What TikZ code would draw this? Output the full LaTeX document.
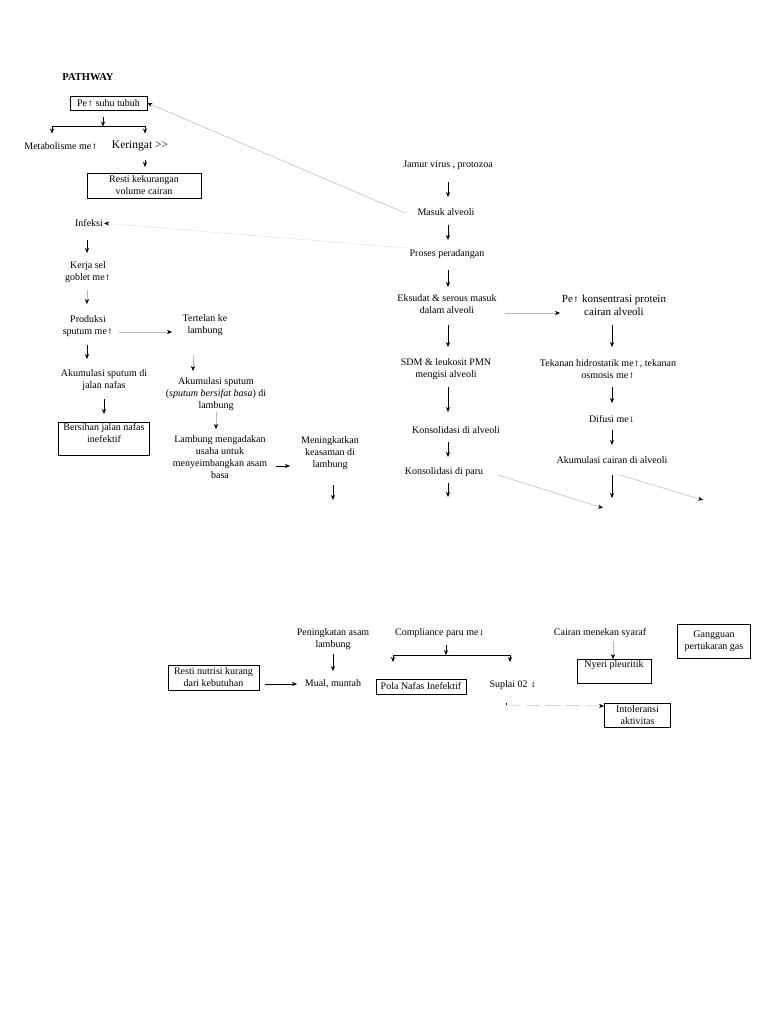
\documentclass[tikz,border=0pt]{standalone}
\usepackage{fontspec}
\setmainfont{Liberation Serif}
\newfontfamily\arrfont{DejaVu Serif}
\newcommand{\upa}{{\arrfont\fontsize{7.5}{7}\selectfont ↑}}
\newcommand{\dna}{{\arrfont\fontsize{7.5}{7}\selectfont ↓}}
\usetikzlibrary{arrows.meta}
\begin{document}
\begin{tikzpicture}[x=1pt,y=-1pt,
  t/.style={align=center,font=\fontsize{10}{12}\selectfont,inner sep=1pt,yshift=-1.2pt},
  bx/.style={draw,line width=0.8pt,align=center,font=\fontsize{10}{12}\selectfont,inner sep=1pt},
  arr/.style={-{Stealth[length=5pt,width=4.2pt]},line width=0.75pt},
  garr/.style={-{Stealth[length=5pt,width=4.2pt,color=black]},line width=0.5pt,draw=gray!55},
  ln/.style={line width=0.75pt}]
\useasboundingbox (0,0) rectangle (768,1024);
\fill[white] (0,0) rectangle (768,1024);

% ---------- left column ----------
\node[font=\bfseries\fontsize{10.5}{12}\selectfont,yshift=-1pt] (title) at (88,76) {PATHWAY};
\node[bx,minimum width=77,minimum height=14] (suhu) at (108.5,103) {Pe\upa\ suhu tubuh};
\coordinate (br1) at (103,126.5);
\draw[arr] (103,117) -- (br1);
\node[t] (meta) at (61,145) {Metabolisme me\upa};
\node[t,font=\fontsize{11.5}{12}\selectfont] (ker) at (140,145) {Keringat >{}>};
\draw[ln] (52,126.5) -- (br1) -- (145,126.5);
\draw[arr] (52,126.5) -- (52,133.5);
\draw[arr] (145,126.5) -- (145,133.5);
\node[bx,minimum width=114,minimum height=25] (resti) at (144,185.5) {Resti kekurangan\\volume cairan};
\draw[arr] (145,160) -- (145,167);
\node[t] (inf) at (89,222) {Infeksi};
\node[t] (kerja) at (88,270.5) {Kerja sel\\goblet me\upa};
\draw[arr] (87,240) -- (87,253);
\node[t] (prod) at (88,325) {Produksi\\sputum me\upa};
\draw[garr] (87,290) -- (87,304);
\node[t] (tert) at (205,324) {Tertelan ke\\lambung};
\draw[garr] (119,332) -- (172,332);
\node[t] (akum1) at (104,379) {Akumulasi sputum di\\jalan nafas};
\draw[arr] (87,345) -- (87,359);
\node[bx,minimum width=91,minimum height=33] (bers) at (104,438.5) {};
\node[t,anchor=north,yshift=1.2pt] (bersT) at ([yshift=-1pt]bers.north) {Bersihan jalan nafas\\inefektif};
\draw[arr] (104,399) -- (104,414);
\node[t] (akum2) at (216,393) {Akumulasi sputum\\(\textit{sputum bersifat basa}) di\\lambung};
\draw[garr] (193,355) -- (193,371);
\node[t] (lamb) at (220,455.5) {Lambung mengadakan\\usaha untuk\\menyeimbangkan asam\\basa};
\draw[garr] (216,412) -- (216,429);
\node[t] (menin) at (330,452) {Meningkatkan\\keasaman di\\lambung};
\draw[arr] (276,466) -- (290,466);
\coordinate (end1) at (333,500);
\draw[arr] (333,485) -- (end1);

% ---------- right column ----------
\node[t] (jamur) at (448,164) {Jamur virus , protozoa};
\node[t] (masuk) at (446,211) {Masuk alveoli};
\node[t] (pros) at (447,253) {Proses peradangan};
\node[t] (eks) at (447,302.5) {Eksudat \& serous masuk\\dalam alveoli};
\node[t,font=\fontsize{11}{13}\selectfont] (konp) at (614,304) {Pe\upa\ konsentrasi protein\\cairan alveoli};
\node[t] (sdm) at (446,368) {SDM \& leukosit PMN\\mengisi alveoli};
\node[t] (tek) at (608,368) {Tekanan hidrostatik me\upa, tekanan\\osmosis me\upa};
\node[t] (dif) at (612,418) {Difusi me\dna};
\node[t] (konsa) at (456,429) {Konsolidasi di alveoli};
\node[t] (akc) at (612,459) {Akumulasi cairan di alveoli};
\node[t] (konsp) at (444,471) {Konsolidasi di paru};

\draw[arr] (448,182) -- (448,197);
\draw[arr] (448,225) -- (448,240);
\draw[arr] (448,270) -- (448,287);
\draw[garr] (505,313) -- (560,313);
\draw[arr] (448,325) -- (448,347);
\draw[arr] (612,325) -- (612,347);
\draw[arr] (448,387) -- (448,412);
\draw[arr] (612,387) -- (612,403);
\draw[arr] (612,430) -- (612,445);
\draw[arr] (448,442) -- (448,457);
\coordinate (end2) at (448,497);
\coordinate (end3) at (612,498);
\coordinate (end4) at (603,508);
\coordinate (end5) at (703,500);
\draw[arr] (448,483) -- (end2);
\draw[arr] (612,475) -- (end3);
\draw[garr] (498,475) -- (end4);
\draw[garr] (620,475) -- (end5);

% gray cross links
\coordinate (mw) at (405,213);
\coordinate (pw) at (407,248);
\draw[garr] (mw) -- (suhu.east);
\draw[-{Stealth[length=5pt,width=4.2pt,color=black]},line width=0.5pt,draw=gray!55,densely dotted] (pw) -- (inf.east);

% ---------- bottom ----------
\node[t] (penin) at (333,638) {Peningkatan asam\\lambung};
\node[t] (mual) at (333,683) {Mual, muntah};
\node[bx,minimum width=91,minimum height=25] (rnut) at (213.5,677.5) {Resti nutrisi kurang\\dari kebutuhan};
\draw[arr] (333,654) -- (333,671);
\draw[arr] (265,684) -- (297,684);
\node[t] (comp) at (440,632) {Compliance paru me\dna};
\coordinate (br2) at (446,655);
\draw[arr] (446,645) -- (br2);
\draw[ln] (393,655) -- (510,655);
\draw[arr] (393,655) -- (393,662);
\draw[arr] (510,655) -- (510,662);
\node[bx,minimum width=90,minimum height=15] (pola) at (421,686.5) {Pola Nafas Inefektif};
\node[t] (supl) at (513,684) {Suplai 02 \dna};
\node[bx,minimum width=66,minimum height=24] (intol) at (637.5,715) {Intoleransi\\aktivitas};
\coordinate (sup0) at (506,705);
\draw[line width=0.7pt] (506,703) -- (sup0);
\draw[-{Stealth[length=5pt,width=4.2pt,color=black]},line width=0.5pt,draw=gray!55,dash pattern=on 14pt off 6pt] (sup0) -- (intol.west |- 0,706);
\node[t] (cair) at (600,632) {Cairan menekan syaraf};
\node[bx,minimum width=74,minimum height=24] (nyeri) at (614,671.5) {};
\node[t,anchor=north,yshift=1.2pt] (nyeriT) at ([yshift=-0.5pt]nyeri.north) {Nyeri pleuritik};
\draw[garr] (613,641) -- (nyeri.north -| 613,0);
\node[bx,minimum width=73,minimum height=34] (gang) at (714,641) {Gangguan\\pertukaran gas};
\end{tikzpicture}
\end{document}
